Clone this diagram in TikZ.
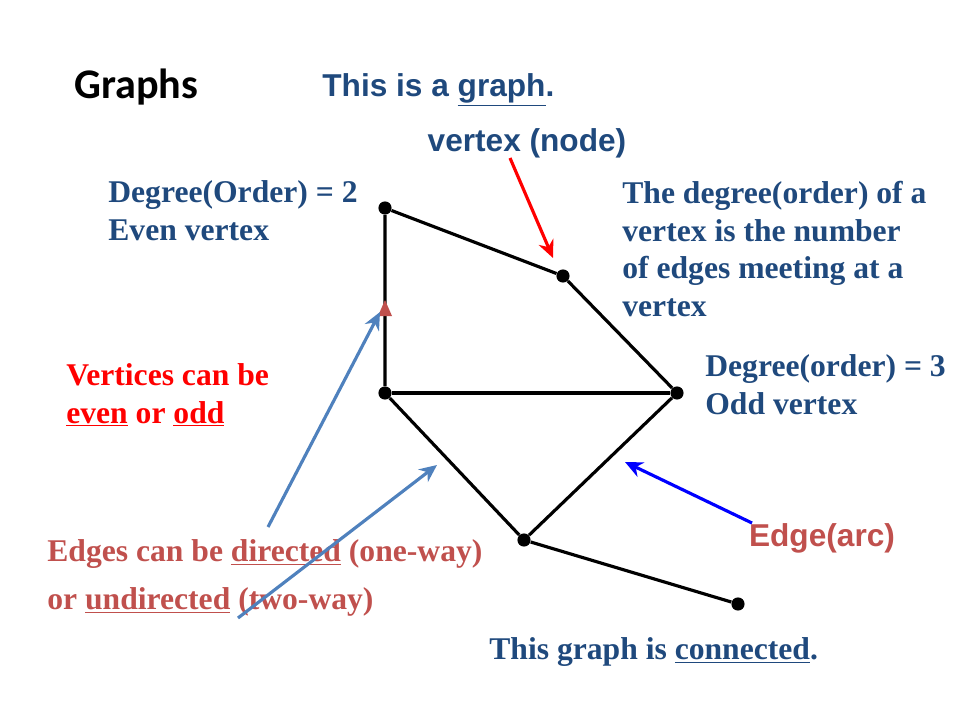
\documentclass[tikz,border=0pt]{standalone}
\usepackage{fontspec}
\setmainfont{Liberation Serif}
\newfontfamily\slidesans{Carlito}
\newfontfamily\arialsans{Liberation Sans}
\usepackage{xcolor}
\usetikzlibrary{positioning,arrows.meta}
\definecolor{darkblue}{HTML}{1F497D}
\definecolor{brick}{HTML}{C0504D}
\definecolor{steel}{HTML}{4F81BD}
\tikzset{
	vert/.style={circle,fill=black,inner sep=0pt,minimum size=7.5pt},
	edge/.style={line width=1.8pt},
	note/.style={font=\fontsize{18}{21.6}\selectfont\bfseries,align=left,anchor=west,inner sep=0pt},
	pointer/.style={line width=1.8pt,-{Stealth[length=10pt,width=9pt]}}
}
\begin{document}
\begin{tikzpicture}[x=0.02cm,y=-0.02cm]
	
	\useasboundingbox (0,0) rectangle (960,720);
	
	% the graph
	\node [vert] (a) at (385,208) {};
	\node [vert] (b) at (563,276) {};
	\node [vert] (c) at (677,393) {};
	\node [vert] (d) at (385,393) {};
	\node [vert] (e) at (524,540) {};
	\node [vert] (f) at (738,604) {};
	
	\draw [edge] (a) -- (b) -- (c) -- (e) -- (d) -- (a);
	\draw [edge] (d) -- (c);
	\draw [edge] (e) -- (f);
	
	\fill [brick] (385,300) -- (378,316) -- (392,316) -- cycle;
	
	% titles
	\node [anchor=west,inner sep=0pt] (title) at (74,87) {\slidesans\bfseries\fontsize{24}{28}\selectfont Graphs};
	\node [anchor=west,inner sep=0pt,text=darkblue] (isgraph) at (322,90) {\arialsans\bfseries\fontsize{18}{21}\selectfont This is a \underline{graph}.};
	\node [inner sep=0pt,text=darkblue] (vlabel) at (527,143) {\arialsans\bfseries\fontsize{18}{21}\selectfont vertex (node)};
	
	% notes
	\node [note,text=darkblue] (deg2) at (108,211) {Degree(Order) = 2\\Even vertex};
	\node [note,text=darkblue] (defn) at (622,249) {The degree(order) of a\\vertex is the number\\of edges meeting at a\\vertex};
	\node [note,text=darkblue] (deg3) at (705,385) {Degree(order) = 3\\Odd vertex};
	\node [note,text=red] (evenodd) at (66,395) {Vertices can be\\\underline{even} or \underline{odd}};
	\node [note,text=brick,font=\fontsize{18}{27}\selectfont\bfseries] (dir) at (47,578) {Edges can be \underline{directed} (one-way)\\or \underline{undirected} (two-way)};
	\node [inner sep=0pt,text=brick] (arc) at (822,538) {\arialsans\bfseries\fontsize{18}{21}\selectfont Edge(arc)};
	\node [note,text=darkblue] (conn) at (489,652) {This graph is \underline{connected}.};
	
	% pointers
	\coordinate (vtip) at (553,258);
	\coordinate (up) at (380,312);
	\coordinate (mid) at (437,465);
	\coordinate (rt) at (625,462);
	\draw [pointer,red] (510,158) -- (vtip);
	\draw [pointer,steel] (268,527) -- (up);
	\draw [pointer,steel] (238,618) -- (mid);
	\draw [pointer,blue] (752,523) -- (rt);
	
\end{tikzpicture}
\end{document}
